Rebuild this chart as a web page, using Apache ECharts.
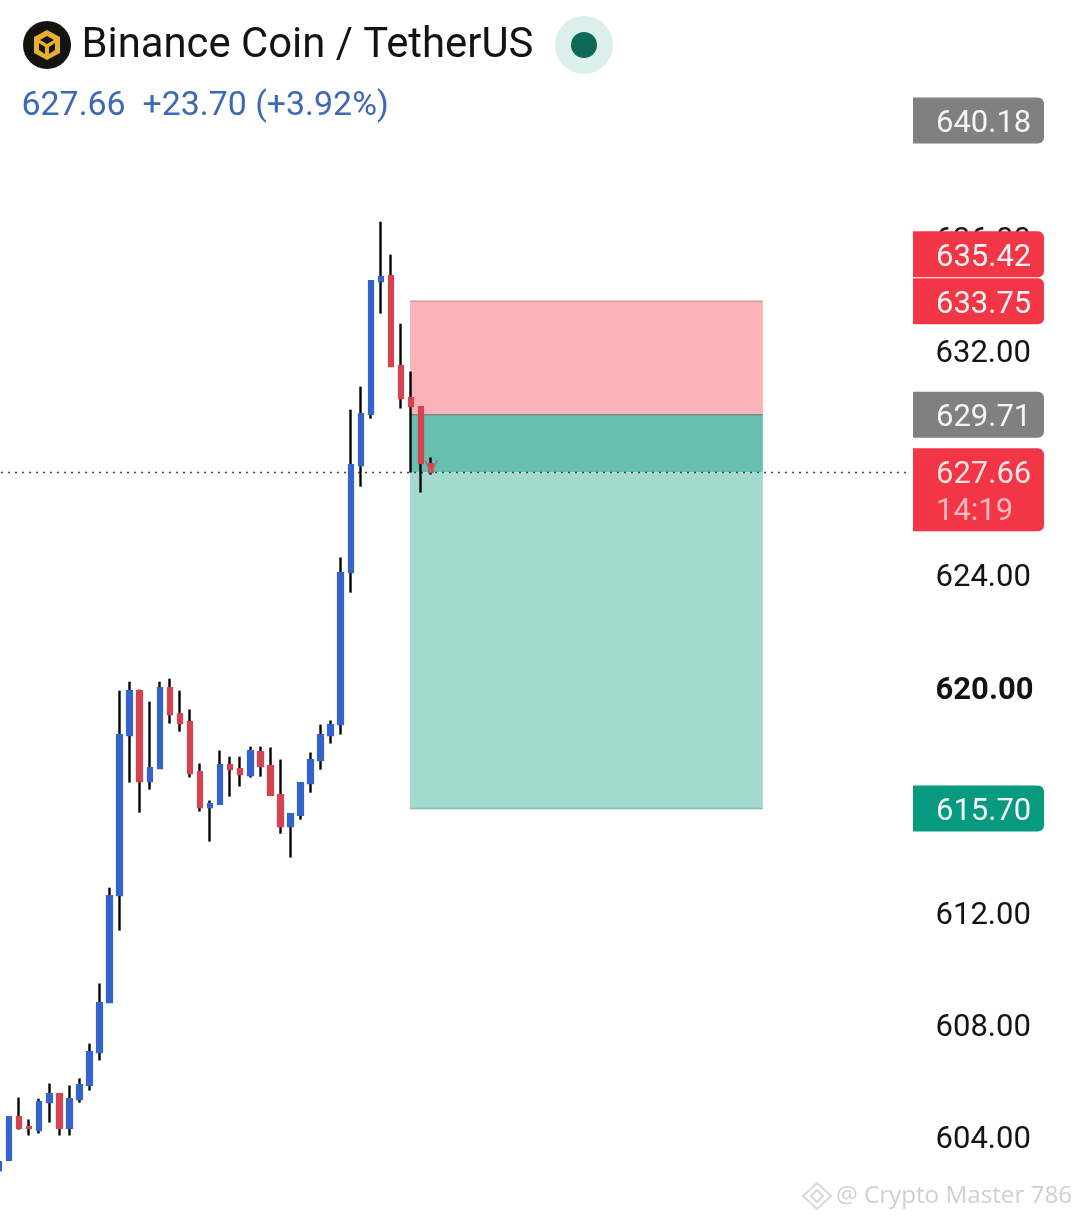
<!DOCTYPE html>
<html><head><meta charset="utf-8">
<style>html,body{margin:0;padding:0;background:#fff}#c{width:1080px;height:1220px}</style>
<script src="https://cdn.jsdelivr.net/npm/echarts@6/dist/echarts.min.js"></script>
</head><body><div id="c"></div>
<script>
var opens  = [602.80,603.17,604.73,604.38,604.23,605.23,605.55,604.31,605.34,605.84,607.01,608.79,612.60,618.29,619.89,616.65,617.12,620.00,619.07,618.79,617.01,615.73,615.84,617.26,617.12,616.87,617.72,617.22,616.19,615.05,615.45,616.58,617.40,618.29,618.68,624.09,627.90,629.72,634.45,634.66,631.46,630.32,630.00,627.97];
var closes = [603.13,604.73,604.31,604.31,605.27,605.55,604.31,605.37,605.87,607.05,608.79,612.60,618.33,619.89,616.65,617.15,620.00,619.04,618.72,616.94,615.73,615.87,617.26,617.08,616.90,617.76,617.19,616.16,615.05,615.52,616.62,617.44,618.33,618.68,624.09,627.94,629.75,634.48,634.63,631.42,630.28,630.00,627.97,627.66];
var lows   = [602.80,603.17,604.27,604.06,604.13,604.52,604.06,604.06,605.23,605.66,606.73,608.79,611.35,616.62,615.55,616.37,617.12,618.72,618.43,616.80,615.59,614.52,615.84,616.12,616.48,616.80,616.83,616.16,614.80,613.95,615.30,616.26,617.08,618.01,618.33,623.38,627.15,629.57,633.31,631.42,629.93,627.65,626.94,627.58];
var highs  = [603.13,604.73,605.41,604.63,605.37,605.91,605.55,605.84,606.09,607.33,609.47,612.88,619.89,620.21,619.93,619.50,620.21,620.32,619.89,619.22,617.30,615.98,617.76,617.54,617.54,617.90,617.90,617.87,617.44,615.52,616.62,617.69,618.68,618.83,624.63,629.89,630.71,634.48,636.58,635.41,632.95,631.25,630.00,628.19];

var stopPrice = 633.75, entryPrice = 629.71, lastPrice = 627.66, targetPrice = 615.70;
var zoneStartIndex = 40.9, zoneEndIndex = 76, slotCount = 91;
var priceTicks = ["604.00","608.00","612.00","620.00","624.00","632.00","636.00"];
var boldTick = "620.00";
var tagPrices = [640.18,635.42,633.75,629.71,615.70];
var countdown = "14:19";
var titleText = "Binance Coin / TetherUS";
var quoteText = "627.66  +23.70 (+3.92%)";
var watermarkText = "@ Crypto Master 786";

var BLUE='#3464cb', RED='#d5434f', TAG_RED='#f23645', TAG_GREY='#808080', TAG_GREEN='#089981';
var tagColors=[TAG_GREY,TAG_RED,TAG_RED,TAG_GREY,TAG_GREEN];
var zoneColors=['#f9b3b9','#67bfb0','#a2dacf'];
var zoneLines=['#d8979d','#7c8a88','#7fbdb1'];
var FONT='Roboto, sans-serif';

var categories=[];
for(var n=0;n<slotCount;n++)categories.push(String(n));
var wickData=opens.map(function(o,k){return [o,closes[k],lows[k],highs[k]];});
var bodyData=opens.map(function(o,k){return [o,closes[k],Math.min(o,closes[k]),Math.max(o,closes[k])];});
var zoneData=[[stopPrice,entryPrice,0],[entryPrice,lastPrice,1],[lastPrice,targetPrice,2]];
var tagData=tagPrices.map(function(p,k){return [p,k];});

var chart=echarts.init(document.getElementById('c'),null,{renderer:'canvas'});
chart.setOption({
  animation:false,
  backgroundColor:'#ffffff',
  grid:{left:-6,top:13.2,width:914.55,height:1236.4,outerBoundsMode:'none'},
  xAxis:{type:'category',data:categories,boundaryGap:true,axisLine:{show:false},axisTick:{show:false},axisLabel:{show:false},splitLine:{show:false}},
  yAxis:{type:'value',position:'right',min:600,max:644,interval:4,
    axisLine:{show:false},axisTick:{show:false},splitLine:{show:false},
    axisLabel:{margin:27,color:'#131313',fontFamily:FONT,fontSize:31,align:'left',padding:[7,0,0,0],
      formatter:function(v){var s=v.toFixed(2);if(priceTicks.indexOf(s)<0)return '';return s===boldTick?'{b|'+s+'}':s;},
      rich:{b:{fontWeight:'bold',fontFamily:FONT,fontSize:31,color:'#131313'}}}},
  title:[
    {text:titleText,left:81.5,top:25.5,padding:0,textStyle:{fontFamily:FONT,fontSize:41.8,fontWeight:'normal',color:'#131313'}},
    {text:quoteText,left:21.5,top:90,padding:0,textStyle:{fontFamily:FONT,fontSize:33.9,fontWeight:'normal',color:'#3c68b4'}}
  ],
  graphic:[
    {type:'circle',shape:{cx:47,cy:45,r:24},style:{fill:'#15130f'}},
    {type:'polygon',shape:{points:[[47,30],[60,37],[60,53],[47,60],[34,53],[34,37]]},style:{fill:'#e9b02f'}},
    {type:'polygon',shape:{points:[[47,36],[54,40],[47,44],[40,40]]},style:{fill:'#15130f'}},
    {type:'polygon',shape:{points:[[39,43],[45,47],[45,54],[39,50]]},style:{fill:'#15130f'}},
    {type:'polygon',shape:{points:[[55,43],[49,47],[49,54],[55,50]]},style:{fill:'#15130f'}},
    {type:'circle',shape:{cx:584,cy:45,r:29},style:{fill:'#dcefeb'}},
    {type:'circle',shape:{cx:584,cy:45,r:13},style:{fill:'#0b6b58'}},
    {type:'polygon',shape:{points:[[817,1183],[831,1196],[817,1209],[803,1196]]},style:{fill:'none',stroke:'#d8d8d8',lineWidth:2}},
    {type:'polygon',shape:{points:[[817,1190],[823,1196],[817,1202],[811,1196]]},style:{fill:'none',stroke:'#d8d8d8',lineWidth:2}},
    {type:'text',x:836,y:1196,style:{text:watermarkText,fill:'#d0d0d0',font:'24.2px "Open Sans", sans-serif',textVerticalAlign:'middle'}}
  ],
  series:[
    {type:'custom',name:'zones',z:1,clip:false,silent:true,encode:{y:[0,1]},data:zoneData,
      renderItem:function(params,api){
        var a=api.coord([zoneEndIndex,api.value(0)]),b=api.coord([zoneEndIndex,api.value(1)]),k=api.value(2);
        var left=api.coord([41,api.value(0)])[0]-1;
        var kids=[{type:'rect',shape:{x:left,y:a[1],width:b[0]-left,height:b[1]-a[1]},style:{fill:zoneColors[k]}}];
        if(k===0||k===1)kids.push({type:'line',shape:{x1:left,y1:a[1],x2:b[0],y2:a[1]},style:{stroke:zoneLines[k],lineWidth:1.5}});
        if(k===2)kids.push({type:'line',shape:{x1:left,y1:b[1],x2:b[0],y2:b[1]},style:{stroke:zoneLines[k],lineWidth:1.5}});
        return {type:'group',children:kids};
      }},
    {type:'candlestick',name:'wicks',z:3,data:wickData,barWidth:1,silent:true,
      itemStyle:{color:'#000',color0:'#000',borderColor:'#000',borderColor0:'#000',borderWidth:2.4},
      markLine:{silent:true,symbol:'none',label:{show:false},z:2,lineStyle:{color:'#444',type:[2,5],width:1.4},data:[{yAxis:lastPrice}]}},
    {type:'candlestick',name:'bodies',z:4,data:bodyData,barWidth:6,silent:true,
      itemStyle:{color:BLUE,color0:RED,borderColor:BLUE,borderColor0:RED,borderWidth:1.2}},
    {type:'custom',name:'arrow',z:5,clip:false,silent:true,encode:{y:0},data:[[lastPrice]],
      renderItem:function(params,api){
        var p=api.coord([opens.length-1,api.value(0)]);
        return {type:'polyline',shape:{points:[[p[0]-6,p[1]-12],[p[0],p[1]],[p[0]+6,p[1]-12]]},style:{fill:'none',stroke:'#a86a6a',lineWidth:1.5}};
      }},
    {type:'custom',name:'tags',z:10,clip:false,silent:true,encode:{y:0},data:tagData,
      renderItem:function(params,api){
        var v=api.value(0),k=api.value(1),p=api.coord([0,v]);
        return {type:'group',children:[
          {type:'rect',shape:{x:913,y:p[1]-23,width:131,height:46,r:[0,6,6,0]},style:{fill:tagColors[k]}},
          {type:'text',x:936,y:p[1]+4,style:{text:v.toFixed(2),fill:'#f4f4f4',font:'31px Roboto, sans-serif',textVerticalAlign:'middle'}}
        ]};
      }},
    {type:'custom',name:'last',z:11,clip:false,silent:true,encode:{y:0},data:[[lastPrice]],
      renderItem:function(params,api){
        var v=api.value(0),p=api.coord([0,v]);
        return {type:'group',children:[
          {type:'rect',shape:{x:913,y:p[1]-24,width:131,height:83,r:[0,6,6,0]},style:{fill:TAG_RED}},
          {type:'text',x:936,y:p[1]+3,style:{text:v.toFixed(2),fill:'#fbe3e5',font:'31px Roboto, sans-serif',textVerticalAlign:'middle'}},
          {type:'text',x:936,y:p[1]+40,style:{text:countdown,fill:'#f9b9bf',font:'31px Roboto, sans-serif',textVerticalAlign:'middle'}}
        ]};
      }}
  ]
});
</script></body></html>
